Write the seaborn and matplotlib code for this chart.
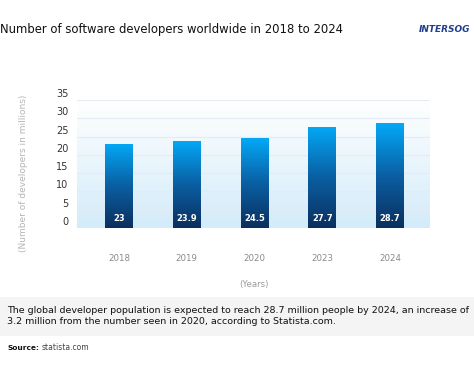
import numpy as np
import pandas as pd
import matplotlib
matplotlib.use("Agg")
import matplotlib.pyplot as plt
import matplotlib.transforms as mtransforms
from matplotlib.colors import LinearSegmentedColormap
import seaborn as sns

years = ["2018", "2019", "2020", "2023", "2024"]
developers = [23, 23.9, 24.5, 27.7, 28.7]
yticks = [0, 5, 10, 15, 20, 25, 30, 35]

title = "Number of software developers worldwide in 2018 to 2024"
note = ("The global developer population is expected to reach 28.7 million people by 2024, an increase of\n"
        "3.2 million from the number seen in 2020, according to Statista.com.")

sns.set_theme(style="white")
plt.rcParams['font.family'] = ['DejaVu Sans']

df = pd.DataFrame({"year": years, "dev": developers})

fig = plt.figure(figsize=(4.74, 3.73), dpi=100)
fig.patch.set_facecolor("white")
ax = fig.add_axes([77/474, (373-228)/373, 353/474, 128/373])

sns.barplot(data=df, x="year", y="dev", ax=ax, width=0.41, color="#0a6ab0", zorder=3)

XL = (-0.62, 4.59)
ax.set_yticks(yticks)
for s in ax.spines.values():
    s.set_visible(False)
ax.grid(axis="y", color="#e3ecf3", linewidth=0.8, zorder=1)
ax.set_axisbelow(True)

# background gradient of plotting area
bg = LinearSegmentedColormap.from_list("bg", ["#d3ebfa", "#ffffff"])
grad = np.linspace(0, 1, 256).reshape(-1, 1)
ax.imshow(grad, aspect="auto", cmap=bg, origin="lower",
          extent=[XL[0], XL[1], 0, 35], zorder=0)

# bar gradients
barcm = LinearSegmentedColormap.from_list("bar", ["#0b2f5e", "#0a5fa3", "#03a9f7"])
for p in list(ax.patches):
    x0, w, h = p.get_x(), p.get_width(), p.get_height()
    im = ax.imshow(grad, aspect="auto", cmap=barcm, origin="lower",
                   extent=[x0, x0 + w, 0, h], zorder=3)
    im.set_clip_path(p)
    p.set_facecolor("none")
    p.set_edgecolor("none")
    ax.text(x0 + w/2, 2.7, f"{h:g}", ha="center", va="center",
            color="white", fontsize=6, fontweight="bold", zorder=5)
ax.set_xlim(*XL)
ax.set_ylim(0, 35)

ax.tick_params(axis="y", labelsize=7, labelcolor="#333333", pad=6, length=0)
ax.tick_params(axis="x", labelsize=6.2, labelcolor="#8a8a8a", pad=19, length=0)
off = mtransforms.ScaledTranslation(0, 7/100, fig.dpi_scale_trans)
for lab in ax.get_yticklabels():
    lab.set_transform(lab.get_transform() + off)

ax.set_xlabel("(Years)", fontsize=6.2, color="#9a9a9a", labelpad=12)
ax.set_ylabel("(Number of developers in millions)", fontsize=6.5, color="#b5b5b5", labelpad=14)
ax.yaxis.set_label_coords(-0.14, 0.43)

fig.text(0/474, 1 - 29/373, title, fontsize=8.4, color="#111111", va="center", ha="left")
fig.text(470/474, 1 - 29/373, "INTERSOG", fontsize=6.5, color="#1f3f8a", va="center", ha="right",
         fontweight="bold", fontstyle="italic")

# note box
fig.patches.append(plt.Rectangle((0, 1 - 336/373), 1, 39/373, transform=fig.transFigure,
                                 facecolor="#f4f4f4", edgecolor="none", zorder=0))
fig.text(7/474, 1 - 316/373, note, fontsize=6.8, color="#111111", va="center", ha="left",
         linespacing=1.35)
fig.text(7/474, 1 - 348/373, "Source:", fontsize=5.3, color="#111111", fontweight="bold",
         va="center", ha="left")
fig.text(42/474, 1 - 348/373, "statista.com", fontsize=5.5, color="#444444", va="center", ha="left")

fig.savefig("out.png", dpi=100)
